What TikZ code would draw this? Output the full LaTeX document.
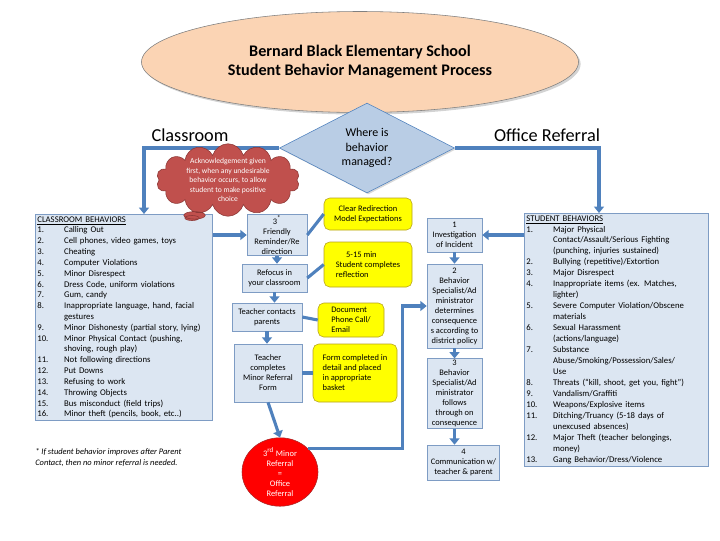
\documentclass[tikz,border=0pt]{standalone}
\usepackage{fontspec}
\setmainfont{Carlito}
\usepackage{xcolor}
\usepackage{tikz}
\usetikzlibrary{positioning, calc, shapes.geometric, shapes.callouts, shadows, arrows.meta}
\definecolor{BoxBlue}{RGB}{220,230,242}
\definecolor{EdgeBlue}{RGB}{126,156,196}
\definecolor{FlowBlue}{RGB}{79,129,189}
\definecolor{AskBlue}{RGB}{185,205,229}
\definecolor{NoteYellow}{RGB}{255,255,0}
\definecolor{NoteEdge}{RGB}{180,160,30}
\definecolor{TitlePeach}{RGB}{251,212,180}
\definecolor{CloudRed}{RGB}{192,80,77}
\definecolor{CloudEdge}{RGB}{140,56,54}
\definecolor{AlertRed}{RGB}{255,0,0}
\definecolor{AlertEdge}{RGB}{170,40,40}
\newcommand{\pxu}{0.025cm}
\newcommand{\listfont}{\fontsize{6.2}{7.7}\selectfont}
\newcommand{\boxfont}{\fontsize{6}{7.1}\selectfont}
\newcommand{\bitem}[2]{\par\noindent\hangindent=19pt\hangafter=1\makebox[19pt][l]{#1}#2}
\tikzset{
    titlenode/.style={
        ellipse, draw=gray, fill=TitlePeach, minimum width=437*\pxu, minimum height=101*\pxu,
        align=center, font=\fontsize{11.5}{13.5}\selectfont\bfseries,
        drop shadow={shadow xshift=1.5pt, shadow yshift=-1.5pt, opacity=0.35}
    },
    asknode/.style={
        diamond, draw=FlowBlue, fill=AskBlue, inner sep=0pt, minimum width=175*\pxu,
        minimum height=74*\pxu, align=center, font=\fontsize{8.5}{10.3}\selectfont,
        drop shadow={shadow xshift=1pt, shadow yshift=-1pt, opacity=0.3}
    },
    headlbl/.style={
        font=\fontsize{13}{15}\selectfont
    },
    listnode/.style={
        draw=EdgeBlue, fill=BoxBlue, anchor=north west, align=left,
        inner xsep=1.5pt, inner ysep=1.5pt, font=\listfont
    },
    stepbox/.style={
        draw=EdgeBlue, fill=BoxBlue, align=center, inner sep=1pt, font=\boxfont
    },
    notebox/.style={
        draw=NoteEdge, fill=NoteYellow, rounded corners=4pt, inner sep=1pt, font=\boxfont
    },
    alertnode/.style={
        ellipse, draw=AlertEdge, fill=AlertRed, text=white, inner sep=0pt,
        minimum width=76*\pxu, minimum height=61*\pxu, align=center, font=\boxfont
    },
    cloudnote/.style={
        cloud callout, cloud puffs=14, aspect=2.2, draw=CloudEdge, fill=CloudRed,
        text=white, inner sep=-2pt, minimum width=143*\pxu, minimum height=64*\pxu,
        align=center, font=\fontsize{5.4}{6.8}\selectfont
    },
    flowptr/.style={
        -{Triangle[width=7pt, length=4.5pt]}, line width=2.2pt, FlowBlue
    },
    linkline/.style={
        line width=2.2pt, FlowBlue
    }
}

\begin{document}
\begin{tikzpicture}[x=0.025cm, y=-0.025cm]
\useasboundingbox (0,0) rectangle (720,540);
% heading and question
\node[titlenode] (title) at (360,62) {Bernard Black Elementary School\\Student Behavior Management Process};
\node[asknode] (where) at (367,148) {Where is\\behavior\\managed?};
\node[headlbl] (clslbl) at (190,135) {Classroom};
\node[headlbl] (offlbl) at (547,135) {Office Referral};

% classroom side
\node[listnode, text width=4.325cm] (clsbox) at (35,214) {\underline{CLASSROOM BEHAVIORS}
  \bitem{1.}{Calling Out}
  \bitem{2.}{Cell phones, video games, toys}
  \bitem{3.}{Cheating}
  \bitem{4.}{Computer Violations}
  \bitem{5.}{Minor Disrespect}
  \bitem{6.}{Dress Code, uniform violations}
  \bitem{7.}{Gum, candy}
  \bitem{8.}{Inappropriate language, hand, facial\newline gestures}
  \bitem{9.}{Minor Dishonesty (partial story, lying)}
  \bitem{10.}{Minor Physical Contact (pushing,\newline shoving, rough play)}
  \bitem{11.}{Not following directions}
  \bitem{12.}{Put Downs}
  \bitem{13.}{Refusing to work}
  \bitem{14.}{Throwing Objects}
  \bitem{15.}{Bus misconduct (field trips)}
  \bitem{16.}{Minor theft (pencils, book, etc..)}};
\node[anchor=north west, align=left, inner sep=0pt, font=\fontsize{6}{7.8}\selectfont\itshape] (footnote) at (35,448)
  {* If student behavior improves after Parent\\Contact, then no minor referral is needed.};

\node[stepbox, minimum width=60*\pxu, minimum height=36*\pxu] (remind) at (277,235) {3\textsuperscript{*}\\Friendly\\Reminder/Re\\direction};
\node[stepbox, minimum width=65*\pxu, minimum height=28*\pxu] (refocus) at (274.5,278) {Refocus in\\your classroom};
\node[stepbox, minimum width=70*\pxu, minimum height=28*\pxu] (contacts) at (267,317) {Teacher contacts\\parents};
\node[stepbox, minimum width=68*\pxu, minimum height=58*\pxu] (completes) at (268,373) {Teacher\\completes\\Minor Referral\\Form};
\node[alertnode] (redref) at (280,472) {3\textsuperscript{rd} Minor\\Referral\\=\\Office\\Referral};

\node[notebox, align=center, minimum width=88*\pxu, minimum height=32*\pxu] (clear) at (368,214) {Clear Redirection\\Model Expectations};
\node[notebox, align=left, minimum width=88*\pxu, minimum height=45*\pxu] (reflect) at (368,264.5) {\quad\ 5-15 min\\Student completes\\reflection};
\node[notebox, align=left, minimum width=66*\pxu, minimum height=34*\pxu] (doc) at (351,320) {Document\\Phone Call/\\Email};
\node[notebox, align=left, minimum width=84*\pxu, minimum height=58*\pxu] (form) at (355,373) {Form completed in\\detail and placed\\in appropriate\\basket};

% office side
\node[listnode, text width=4.5cm, font=\fontsize{6.2}{7.8}\selectfont] (offbox) at (524,213) {\underline{STUDENT BEHAVIORS}
  \bitem{1.}{Major Physical\newline Contact/Assault/Serious Fighting\newline (punching, injuries sustained)}
  \bitem{2.}{Bullying (repetitive)/Extortion}
  \bitem{3.}{Major Disrespect}
  \bitem{4.}{Inappropriate items (ex. Matches,\newline lighter)}
  \bitem{5.}{Severe Computer Violation/Obscene\newline materials}
  \bitem{6.}{Sexual Harassment\newline (actions/language)}
  \bitem{7.}{Substance\newline Abuse/Smoking/Possession/Sales/\newline Use}
  \bitem{8.}{Threats (“kill, shoot, get you, fight”)}
  \bitem{9.}{Vandalism/Graffiti}
  \bitem{10.}{Weapons/Explosive items}
  \bitem{11.}{Ditching/Truancy (5-18 days of\newline unexcused absences)}
  \bitem{12.}{Major Theft (teacher belongings,\newline money)}
  \bitem{13.}{Gang Behavior/Dress/Violence}};

\node[stepbox, minimum width=55*\pxu, minimum height=34*\pxu] (invest) at (454.5,235) {1\\Investigation\\of Incident};
\node[stepbox, minimum width=55*\pxu, minimum height=84*\pxu] (spec) at (454.5,306) {2\\Behavior\\Specialist/Ad\\ministrator\\determines\\consequence\\s according to\\district policy};
\node[stepbox, minimum width=55*\pxu, minimum height=67*\pxu] (follow) at (454.5,393.5) {3\\Behavior\\Specialist/Ad\\ministrator\\follows\\through on\\consequence};
\node[stepbox, minimum width=72*\pxu, minimum height=35*\pxu] (comm) at (463.5,462.5) {4\\Communication w/\\teacher \& parent};

% connectors
\draw[flowptr] (where.west) -| ($(clsbox.north west)+(109,0)$);
\draw[flowptr] (where.east) -| ($(offbox.north west)+(75,0)$);
\draw[flowptr] (clsbox.east |- remind.west) -- (remind.west);
\draw[flowptr] (remind.south) -- (remind.south |- refocus.north);
\draw[flowptr] (refocus.south) -- (refocus.south |- contacts.north);
\draw[flowptr] (contacts.south) -- (contacts.south |- completes.north);
\draw[flowptr] (completes.south) -- (redref.north);
\draw[flowptr] (redref.40) -| ($(spec.west)+(-24,0)$) -- (spec.west);
\draw[linkline] (remind.east) -- (clear.west);
\draw[linkline] (refocus.east) -- (reflect.west);
\draw[linkline] (contacts.east) -- (doc.west);
\draw[linkline] (completes.east) -- (form.west);
\draw[flowptr] (offbox.west |- invest.east) -- (invest.east);
\draw[flowptr] (invest.south) -- (spec.north);
\draw[flowptr] (spec.south) -- (follow.north);
\draw[flowptr] (follow.south) -- (follow.south |- comm.north);

% cloud on top
\node[cloudnote, callout absolute pointer={(192,218)}] (ack) at (228,180)
  {Acknowledgement given\\first, when any undesirable\\behavior occurs, to allow\\student to make positive\\choice};
\end{tikzpicture}
\end{document}
